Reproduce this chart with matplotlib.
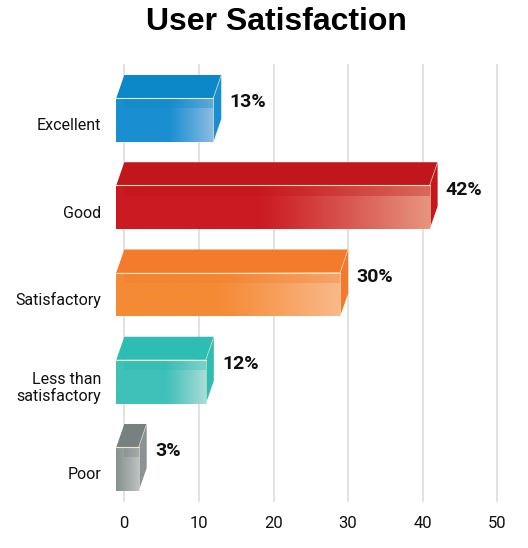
import numpy as np
import matplotlib
matplotlib.use('Agg')
import matplotlib.pyplot as plt
from matplotlib.patches import Polygon, Rectangle
from matplotlib.colors import to_rgb

categories = ['Excellent', 'Good', 'Satisfactory', 'Less than\nsatisfactory', 'Poor']
values = [13, 42, 30, 12, 3]
value_labels = ['13%', '42%', '30%', '12%', '3%']
xticks = [0, 10, 20, 30, 40, 50]

front_colors = ['#1a8fd0', '#cc1a22', '#f58a35', '#3fc0b8', '#87928f']
light_colors = ['#8cbce2', '#e6957e', '#f9b98a', '#a8dcd8', '#bcc3c2']
top_colors = ['#0a88c8', '#c0161c', '#f47b2c', '#2ebdb2', '#77817f']
side_colors = ['#1a8fd0', '#c8161d', '#f47a2a', '#2ebdb2', '#8a9393']

narrow = ['Roboto', 'DejaVu Sans']

W, H = 528, 548
fig = plt.figure(figsize=(W / 100, H / 100), dpi=100)

# pixel layout: 0 at x=124.3px, 7.46 px per unit; categories 87.25 px apart
xmin, xmax = -1.6, 51.5
px_per_unit = 7.46
x0_px = 124.3
left_px = x0_px + xmin * px_per_unit
right_px = x0_px + xmax * px_per_unit
top_px, bot_px = 64, 502
ax = fig.add_axes([left_px / W, 1 - bot_px / H, (right_px - left_px) / W, (bot_px - top_px) / H])

ymin = (top_px - 120) / 87.25
ymax = (bot_px - 120) / 87.25
ax.set_xlim(xmin, xmax)
ax.set_ylim(ymax, ymin)

d = 1.07      # depth offset in x (value units)
dep = 0.264   # depth offset in y (category units)
h = 0.504     # front face height

for x in xticks:
    ax.axvline(x, color='#dadada', lw=1.1, zorder=0)

for i, v in enumerate(values):
    ft = i - h / 2
    fb = i + h / 2
    # top face
    ax.add_patch(Polygon([(-d, ft), (v - d, ft), (v, ft - dep), (0, ft - dep)],
                         closed=True, fc=top_colors[i], ec='none', zorder=2))
    # side face
    ax.add_patch(Polygon([(v - d, ft), (v, ft - dep), (v, fb - dep), (v - d, fb)],
                         closed=True, fc=side_colors[i], ec='none', zorder=2))
    # front face with gradient
    n = 200
    f = np.linspace(0, 1, n)
    start = 0.45 if v > 20 else (0.55 if v > 5 else 0.0)
    t = np.clip((f - start) / (1 - start), 0, 1) ** 1.1
    c0 = np.array(to_rgb(front_colors[i]))
    c1 = np.array(to_rgb(light_colors[i]))
    grad = c0[None, :] * (1 - t[:, None]) + c1[None, :] * t[:, None]
    img = np.repeat(grad[None, :, :], 2, axis=0)
    ax.imshow(img, extent=(-d, v - d, fb, ft), aspect='auto', zorder=3,
              interpolation='bilinear')
    # darker strip showing back face through the front
    ax.add_patch(Rectangle((0, ft), v - d, 0.12, fc=top_colors[i], ec='none',
                           alpha=0.35, zorder=4))
    # light edges of front face
    ax.plot([-d, v - d], [ft, ft], color='#f3e6c8', lw=0.8, zorder=5)
    ax.plot([v - d, v - d], [ft, fb], color='#f3e6c8', lw=0.6, alpha=0.7, zorder=5)
    ax.plot([v - d, v], [ft, ft - dep], color='#f3e6c8', lw=0.6, alpha=0.7, zorder=5)
    ax.text(v + 1.1, ft + 0.05, value_labels[i], ha='left', va='center',
            fontsize=14, fontweight='bold', family=narrow, color='#111111', zorder=6)

ax.set_xticks(xticks)
ax.set_xticklabels([str(x) for x in xticks], family=narrow, fontsize=12, color='#111111')
ax.set_yticks([i + 0.05 for i in range(len(categories))])
ax.set_yticklabels(categories, family=narrow, fontsize=11.5, color='#111111',
                   linespacing=1.05)
ax.tick_params(axis='both', length=0)
ax.tick_params(axis='x', pad=10)
ax.tick_params(axis='y', pad=8)
for s in ax.spines.values():
    s.set_visible(False)

fig.text(276 / W, 1 - 22 / H, 'User Satisfaction', ha='center', va='center',
         fontsize=23, fontweight='heavy', family=['Liberation Sans', 'DejaVu Sans'],
         color='#000000')

fig.savefig('out.png', dpi=100)
